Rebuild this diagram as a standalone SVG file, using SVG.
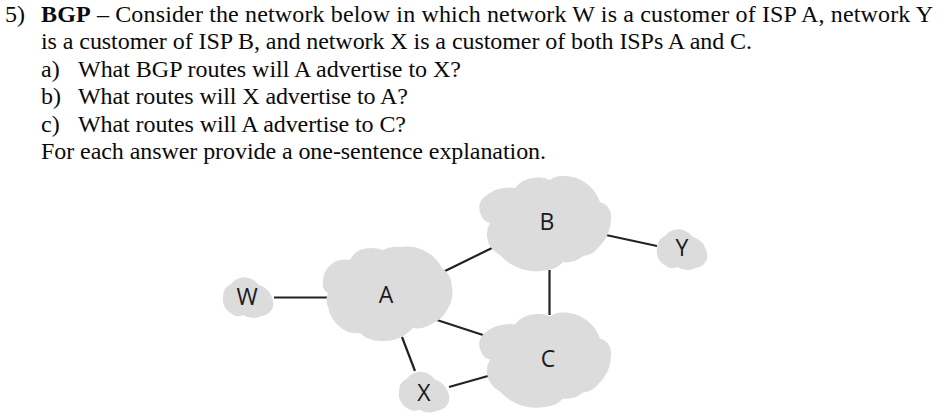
<svg xmlns="http://www.w3.org/2000/svg" xmlns:xlink="http://www.w3.org/1999/xlink" width="939" height="417" viewBox="0 0 939 417">
<style>
.t{font-family:"Liberation Serif","Times New Roman",serif;font-size:24px;fill:#0a0a0a}
.b{font-weight:bold}
.l{font-family:"Open Sans","Noto Sans",sans-serif;font-size:23px;fill:#1a1a1a;text-anchor:middle}
.c{fill:#dcdcdc}
.e{stroke:#222;stroke-width:2.2;fill:none}
</style>
<defs>
<path id="big" class="c" d="M483 198A40 40 0 0 1 515 188A26 26 0 0 1 533 178A24 24 0 0 1 550 180A20 20 0 0 1 563 176A38 38 0 0 1 600 202A14 14 0 0 1 611 215A42 42 0 0 1 598 248A22 22 0 0 1 583 256A26 26 0 0 1 563 262A24 24 0 0 1 547 270A48 48 0 0 1 500 255A24 24 0 0 1 487 237A22 22 0 0 1 490 223A12 12 0 0 1 481 215A16 16 0 0 1 483 198Z"/>
<path id="small" class="c" d="M231 284A17 17 0 0 1 255 281L259 285A20 20 0 0 1 273 307A14 14 0 0 1 262 316A20 20 0 0 1 243 315A10 10 0 0 1 232 314A16 16 0 0 1 223 297A14 14 0 0 1 231 284Z"/>
</defs>
<rect width="939" height="417" fill="#fff"/>
<g id="question">
<text class="t" x="5" y="22">5)</text>
<text class="t" x="41" y="22" textLength="892"><tspan class="b">BGP</tspan> – Consider the network below in which network W is a customer of ISP A, network Y</text>
<text class="t" x="41" y="49" textLength="711">is a customer of ISP B, and network X is a customer of both ISPs A and C.</text>
<text class="t" x="41" y="77">a)</text>
<text class="t" x="78" y="77" textLength="383">What BGP routes will A advertise to X?</text>
<text class="t" x="41" y="104">b)</text>
<text class="t" x="78" y="104" textLength="330">What routes will X advertise to A?</text>
<text class="t" x="41" y="132">c)</text>
<text class="t" x="78" y="132" textLength="328">What routes will A advertise to C?</text>
<text class="t" x="41" y="159" textLength="505">For each answer provide a one-sentence explanation.</text>
</g>
<g id="connectors">
<line class="e" x1="274" y1="297.500" x2="330" y2="297.500"/>
<line class="e" x1="443" y1="272" x2="492" y2="248"/>
<line class="e" x1="437" y1="320" x2="486" y2="336"/>
<line class="e" x1="402" y1="337" x2="415" y2="371"/>
<line class="e" x1="449" y1="387" x2="488" y2="376"/>
<line class="e" x1="549.500" y1="270" x2="549.500" y2="315"/>
<line class="e" x1="606" y1="235" x2="657" y2="246"/>
</g>
<g id="node-W"><use xlink:href="#small" href="#small"/><text class="l" x="247" y="305">W</text></g>
<g id="node-A"><path class="c" d="M323 283A22 22 0 0 1 350 260A20 20 0 0 1 360 250A34 34 0 0 1 383 250A28 28 0 0 1 400 247A40 40 0 0 1 442 268A24 24 0 0 1 452 287A32 32 0 0 1 447 310A26 26 0 0 1 433 323A26 26 0 0 1 413 328A40 40 0 0 1 383 341A30 30 0 0 1 360 333A26 26 0 0 1 340 327A34 34 0 0 1 328 307A18 18 0 0 1 328 293A10 10 0 0 1 323 283Z"/><text class="l" x="386" y="303">A</text></g>
<g id="node-B"><use xlink:href="#big" href="#big"/><text class="l" x="547" y="230">B</text></g>
<g id="node-C"><use xlink:href="#big" href="#big" transform="translate(0 136.500)"/><text class="l" x="548" y="367">C</text></g>
<g id="node-X"><use xlink:href="#small" href="#small" transform="translate(176 94.500)"/><text class="l" x="424" y="401">X</text></g>
<g id="node-Y"><use xlink:href="#small" href="#small" transform="translate(434 -48)"/><text class="l" x="682" y="256">Y</text></g>
</svg>
